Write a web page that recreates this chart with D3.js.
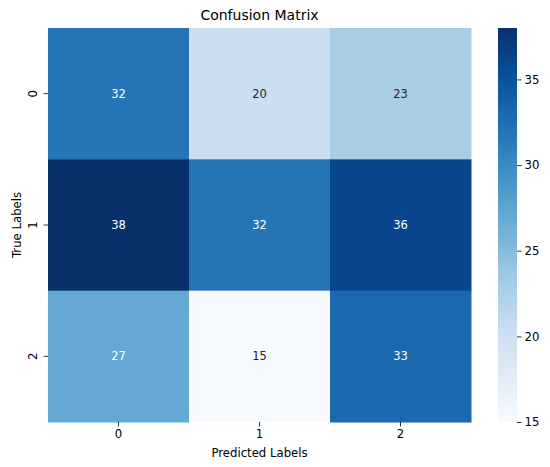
<!DOCTYPE html>
<html>
<head>
<meta charset="utf-8">
<script src="https://cdn.jsdelivr.net/npm/d3@7"></script>
<style>
  body { margin: 0; background: #fff; }
  svg { display: block; font-family: "DejaVu Sans", sans-serif; }
</style>
</head>
<body>
<svg id="chart" width="550" height="467"></svg>
<script>
const predictedLabels = ["0", "1", "2"];
const trueLabels = ["0", "1", "2"];
const matrix = [
  [32, 20, 23],
  [38, 32, 36],
  [27, 15, 33]
];
const colorbarTicks = [15, 20, 25, 30, 35];
const blues = ["#f7fbff", "#deebf7", "#c6dbef", "#9ecae1", "#6baed6", "#4292c6", "#2171b5", "#08519c", "#08306b"];

(function () {
const vmin = 15, vmax = 38;
const svg = d3.select("#chart");
const pLeft = 48, pRight = 471, pTop = 28, pBottom = 422;
const cbLeft = 498, cbRight = 517;

const x = d3.scaleBand().domain(predictedLabels).range([pLeft, pRight]).padding(0);
const y = d3.scaleBand().domain(trueLabels).range([pTop, pBottom]).padding(0);
const t = d3.scaleLinear().domain([vmin, vmax]).range([0, 1]);
const cmap = d3.scaleLinear().domain(d3.range(blues.length).map(i => i / (blues.length - 1))).range(blues).interpolate(d3.interpolateRgb);
const color = v => cmap(Math.max(0, Math.min(1, t(v))));

const cells = [];
matrix.forEach((row, i) => row.forEach((v, j) => cells.push({ r: trueLabels[i], c: predictedLabels[j], v })));

function lum(c) {
  const rgb = d3.rgb(c);
  const f = u => { u /= 255; return u <= 0.03928 ? u / 12.92 : Math.pow((u + 0.055) / 1.055, 2.4); };
  return 0.2126 * f(rgb.r) + 0.7152 * f(rgb.g) + 0.0722 * f(rgb.b);
}

svg.append("g").selectAll("rect").data(cells).join("rect")
  .attr("x", d => x(d.c)).attr("y", d => y(d.r))
  .attr("width", x.bandwidth() + 0.5).attr("height", y.bandwidth() + 0.5)
  .attr("fill", d => color(d.v));

svg.append("g").selectAll("text").data(cells).join("text")
  .attr("x", d => x(d.c) + x.bandwidth() / 2)
  .attr("y", d => y(d.r) + y.bandwidth() / 2)
  .attr("text-anchor", "middle").attr("dominant-baseline", "central")
  .attr("font-size", 11.5)
  .attr("fill", d => lum(color(d.v)) > 0.408 ? "#262626" : "#ffffff")
  .text(d => d.v);

// x axis
const xAxis = d3.axisBottom(x).tickSize(4.5).tickPadding(3);
const gx = svg.append("g").attr("transform", `translate(0,${pBottom})`).call(xAxis);
gx.select(".domain").remove();
gx.selectAll("text").attr("font-size", 11.7).attr("fill", "#000").attr("font-family", "DejaVu Sans");
gx.selectAll("line").attr("stroke", "#000").attr("stroke-width", 0.8);

// y axis
const yAxis = d3.axisLeft(y).tickSize(4.5).tickPadding(3);
const gy = svg.append("g").attr("transform", `translate(${pLeft},0)`).call(yAxis);
gy.select(".domain").remove();
gy.selectAll("line").attr("stroke", "#000").attr("stroke-width", 0.8);
gy.selectAll("text").attr("font-size", 11.7).attr("fill", "#000").attr("font-family", "DejaVu Sans")
  .attr("x", null).attr("dy", null)
  .attr("text-anchor", "middle")
  .attr("transform", "translate(-15,0) rotate(-90)")
  .attr("dominant-baseline", "central");

// colorbar
const cbScale = d3.scaleLinear().domain([vmin, vmax]).range([pBottom, pTop]);
const defs = svg.append("defs");
const grad = defs.append("linearGradient").attr("id", "cbgrad")
  .attr("x1", 0).attr("y1", 1).attr("x2", 0).attr("y2", 0);
d3.range(0, 1.0001, 0.05).forEach(s => {
  grad.append("stop").attr("offset", s).attr("stop-color", cmap(s));
});
svg.append("rect").attr("x", cbLeft).attr("y", pTop)
  .attr("width", cbRight - cbLeft).attr("height", pBottom - pTop)
  .attr("fill", "url(#cbgrad)");
const cbAxis = d3.axisRight(cbScale).tickValues(colorbarTicks).tickSize(4.5).tickPadding(3);
const gc = svg.append("g").attr("transform", `translate(${cbRight},0)`).call(cbAxis);
gc.select(".domain").remove();
gc.selectAll("line").attr("stroke", "#000").attr("stroke-width", 0.8);
gc.selectAll("text").attr("font-size", 11.7).attr("fill", "#000").attr("font-family", "DejaVu Sans");

// title & labels
svg.append("text").attr("x", (pLeft + pRight) / 2).attr("y", 20)
  .attr("text-anchor", "middle").attr("font-size", 14).attr("fill", "#000")
  .text("Confusion Matrix");
svg.append("text").attr("x", (pLeft + pRight) / 2).attr("y", 457)
  .attr("text-anchor", "middle").attr("font-size", 11.7).attr("fill", "#000")
  .text("Predicted Labels");
svg.append("text").attr("transform", `translate(21,${(pTop + pBottom) / 2}) rotate(-90)`)
  .attr("text-anchor", "middle").attr("font-size", 11.7).attr("fill", "#000")
  .text("True Labels");
})();
</script>
</body>
</html>
